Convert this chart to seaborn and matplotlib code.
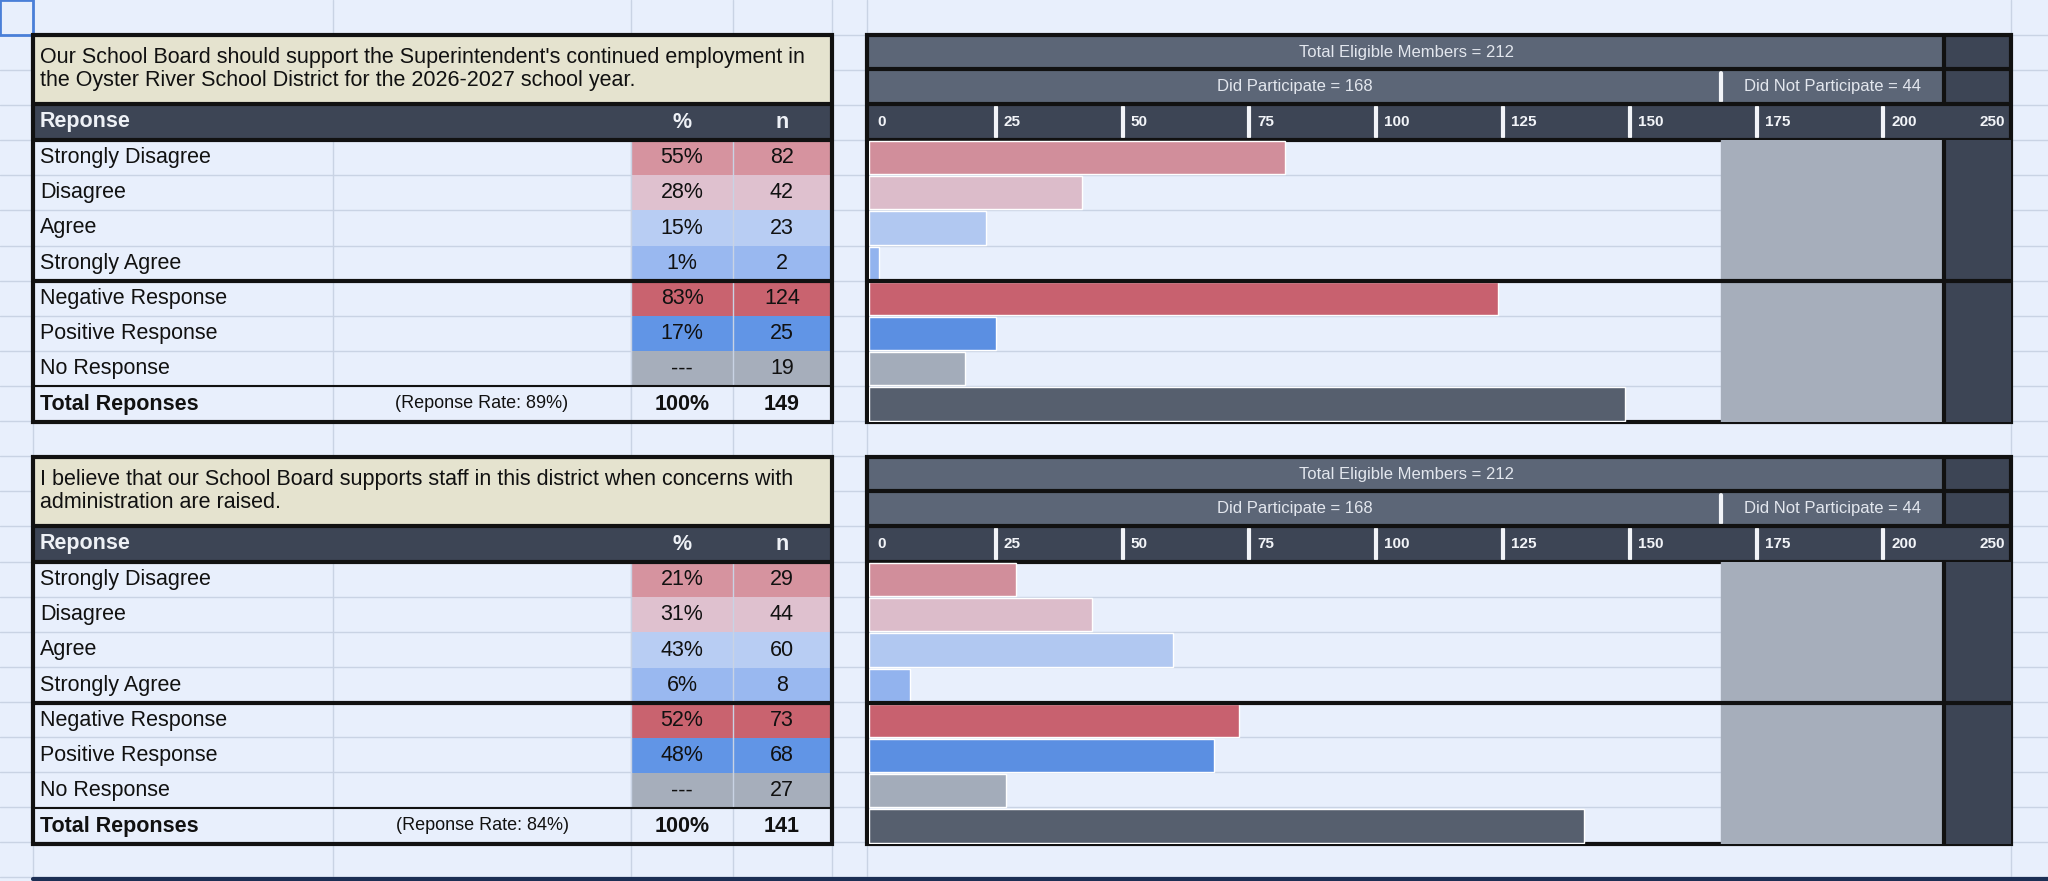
import matplotlib
matplotlib.use("Agg")
import matplotlib.pyplot as plt
import matplotlib.patches as mpatches
import seaborn as sns
import pandas as pd

sns.set_theme(style="white")
plt.rcParams['font.family'] = ['Liberation Sans', 'DejaVu Sans']

# Data
questions = [
    "Our School Board should support the Superintendent's continued employment in\nthe Oyster River School District for the 2026-2027 school year.",
    "I believe that our School Board supports staff in this district when concerns with\nadministration are raised.",
]
categories = ["Strongly Disagree", "Disagree", "Agree", "Strongly Agree",
              "Negative Response", "Positive Response", "No Response", "Total Reponses"]
counts_q1 = [82, 42, 23, 2, 124, 25, 19, 149]
counts_q2 = [29, 44, 60, 8, 73, 68, 27, 141]
pcts_q1 = ["55%", "28%", "15%", "1%", "83%", "17%", "---", "100%"]
pcts_q2 = ["21%", "31%", "43%", "6%", "52%", "48%", "---", "100%"]
rates = ["(Reponse Rate: 89%)", "(Reponse Rate: 84%)"]
eligible = 212
participated = 168
not_participated = 44
ticks = [0, 25, 50, 75, 100, 125, 150, 175, 200]

bar_colors = ["#d18e9b", "#dcbcca", "#b1c8f1", "#92b3ee", "#c8616f", "#5b8fe2", "#a3acba", "#565f6e"]
cell_colors = ["#d6939f", "#dfc1cf", "#b8cdf3", "#99b8f0", "#c9636f", "#6195e6", "#a6aebb", "#e8effc"]

BG = "#e8effc"
DARK = "#3d4555"
MID = "#5c6677"
GRID = "#c9d3e4"

W, H = 2048, 881
fig = plt.figure(figsize=(W / 100, H / 100), dpi=100, facecolor=BG)
ax = fig.add_axes([0, 0, 1, 1])
ax.set_xlim(0, W)
ax.set_ylim(H, 0)
ax.axis("off")
ax.set_facecolor(BG)

# spreadsheet grid
for x in [33, 333, 631, 733, 832, 867, 2011]:
    ax.plot([x, x], [0, H], color=GRID, lw=1, zorder=0)
y = 35
while y < H:
    ax.plot([0, W], [y, y], color=GRID, lw=1, zorder=0)
    y += 35.1
ax.add_patch(mpatches.Rectangle((0, 0), 33, 35, fill=False, ec="#4a7fd8", lw=2, zorder=1))

X0, X1 = 869, 2011
scale = (1721 - X0) / participated
xmax = (X1 - X0) / scale
ROW = 35.2


def rect(x, y, w, h, fc, z=2, **kw):
    ax.add_patch(mpatches.Rectangle((x, y), w, h, fc=fc, ec="none", zorder=z, **kw))


for p, top in enumerate([35, 457]):
    counts = counts_q1 if p == 0 else counts_q2
    pcts = pcts_q1 if p == 0 else pcts_q2
    head = top + 69
    rows0 = head + 36
    rows1 = rows0 + 8 * ROW

    # ---- left table ----
    rect(33, top, 799, 69, "#e5e3cf")
    ax.text(40, top + 34, questions[p], fontsize=15.5, va="center", color="#111", zorder=5, linespacing=1.15)
    rect(33, head, 799, 36, DARK)
    ax.text(40, head + 18, "Reponse", fontsize=15.5, weight="bold", color="#eef1f6", va="center", zorder=5)
    ax.text(682, head + 18, "%", fontsize=15.5, weight="bold", color="#eef1f6", va="center", ha="center", zorder=5)
    ax.text(782, head + 18, "n", fontsize=15.5, weight="bold", color="#eef1f6", va="center", ha="center", zorder=5)
    for i, cat in enumerate(categories):
        yy = rows0 + i * ROW
        rect(631, yy, 201, ROW, cell_colors[i])
        ax.plot([631, 631], [yy, yy + ROW], color=GRID, lw=1, zorder=3)
        ax.plot([733, 733], [yy, yy + ROW], color=GRID, lw=1, zorder=3)
        bold = "bold" if i == 7 else "normal"
        ax.text(40, yy + ROW / 2, cat, fontsize=15.5, weight=bold, va="center", color="#111", zorder=5)
        ax.text(682, yy + ROW / 2, pcts[i], fontsize=15.5, weight=bold, va="center", ha="center", color="#111", zorder=5)
        ax.text(782, yy + ROW / 2, str(counts[i]), fontsize=15.5, weight=bold, va="center", ha="center", color="#111", zorder=5)
    ax.text(482, rows0 + 7.5 * ROW, rates[p], fontsize=13, va="center", ha="center", color="#111", zorder=5)
    ax.plot([33, 832], [rows0 + 7 * ROW] * 2, color="#111", lw=1.5, zorder=6)
    for yy in [head, rows0, rows0 + 4 * ROW]:
        ax.plot([33, 832], [yy, yy], color="#111", lw=3, zorder=6)
    ax.add_patch(mpatches.Rectangle((33, top), 799, rows1 - top, fill=False, ec="#111", lw=3, zorder=7))

    # ---- chart headers ----
    xe = X0 + eligible * scale
    xp = X0 + participated * scale
    rect(867, top, X1 - 867, head + 36 - top, DARK)
    rect(869, top + 2, xe - 869, 31, MID, z=3)
    rect(869, top + 36, xe - 869, 31, MID, z=3)
    ax.text((869 + xe) / 2, top + 17, f"Total Eligible Members = {eligible}", fontsize=12, color="#e3e7ee",
            ha="center", va="center", zorder=5)
    ax.text((869 + xp) / 2, top + 52, f"Did Participate = {participated}", fontsize=12, color="#e3e7ee",
            ha="center", va="center", zorder=5)
    ax.text((xp + xe) / 2, top + 52, f"Did Not Participate = {not_participated}", fontsize=12, color="#e3e7ee",
            ha="center", va="center", zorder=5)
    ax.plot([xp, xp], [top + 38, top + 66], color="#f2f4f8", lw=3, zorder=6)
    for t in ticks:
        tx = X0 + t * scale
        if t > 0:
            ax.plot([tx, tx], [head + 3, head + 33], color="#f2f4f8", lw=3, zorder=6)
        ax.text(tx + 8, head + 18, str(t), fontsize=11, weight="bold", color="#f2f4f8", va="center", zorder=6)
    ax.text(X1 - 6, head + 18, "250", fontsize=11, weight="bold", color="#f2f4f8", va="center", ha="right", zorder=6)

    # ---- bars ----
    bax = fig.add_axes([X0 / W, 1 - rows1 / H, (X1 - X0) / W, (rows1 - rows0) / H])
    bax.set_facecolor("#dde7f8")
    bax.axvspan(participated, eligible, color="#a6aebb", zorder=0)
    bax.axvspan(eligible, xmax, color=DARK, zorder=0)
    df = pd.DataFrame({"category": categories, "n": counts})
    sns.barplot(data=df, x="n", y="category", hue="category", palette=bar_colors, orient="h",
                width=0.94, legend=False, ax=bax, zorder=2, saturation=1)
    bax.set_xlim(0, xmax)
    bax.set_ylim(7.5, -0.5)
    bax.axis("off")
    bax.plot([eligible, eligible], [-0.5, 7.5], color="#111", lw=3, zorder=5)
    bax.axhline(3.5, color="#111", lw=3, zorder=5)

    ax.add_patch(mpatches.Rectangle((867, top), X1 - 867, rows1 - top, fill=False, ec="#111", lw=3, zorder=7))
    for yy in [top + 34, head, rows0]:
        ax.plot([867, X1], [yy, yy], color="#111", lw=3, zorder=7)
    ax.plot([xe, xe], [top, head], color="#111", lw=3, zorder=7)

ax.plot([33, W], [879, 879], color="#1c2f55", lw=3, zorder=7)
fig.savefig("out.png", dpi=100, facecolor=BG)
